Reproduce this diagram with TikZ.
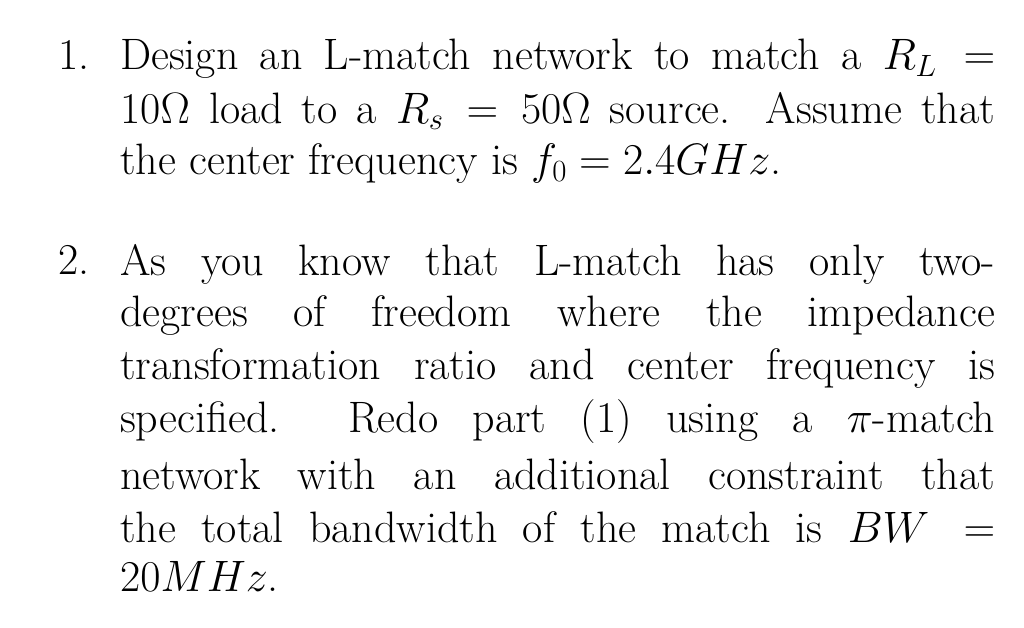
\RequirePackage{fix-cm}
\documentclass[tikz,border=0pt]{standalone}
\newcommand{\jline}[1]{\parbox{875pt}{\fontsize{44}{52}\selectfont\parfillskip=0pt\relax #1}}
\begin{document}
\begin{tikzpicture}[x=1pt,y=1pt,
  txt/.style={anchor=base west,inner sep=0pt,font=\fontsize{44}{52}\selectfont}]
\useasboundingbox (0,0) rectangle (1024,627);
\node[txt] (n1) at (58,557) {1.};
\node[txt] (a1) at (120,557) {\jline{Design an L-match network to match a $R_L=$}};
\node[txt] (a2) at (120,505) {\jline{10$\Omega$ load to a $R_s=50\Omega$ source. Assume that}};
\node[txt] (a3) at (120,452) {the center frequency is $f_0=2.4GHz$.};
\node[txt] (n2) at (58,352) {2.};
\node[txt] (b1) at (120,352) {\jline{As you know that L-match has only two-}};
\node[txt] (b2) at (120,300) {\jline{degrees of freedom where the impedance}};
\node[txt] (b3) at (120,247) {\jline{transformation ratio and center frequency is}};
\node[txt] (b4) at (120,194) {\jline{specified.\ \ Redo part (1) using a $\pi$-match}};
\node[txt] (b5) at (120,142) {\jline{network with an additional constraint that}};
\node[txt] (b6) at (120,89) {\jline{the total bandwidth of the match is $BW=$}};
\node[txt] (b7) at (120,36) {$20MHz$.};
\end{tikzpicture}
\end{document}
